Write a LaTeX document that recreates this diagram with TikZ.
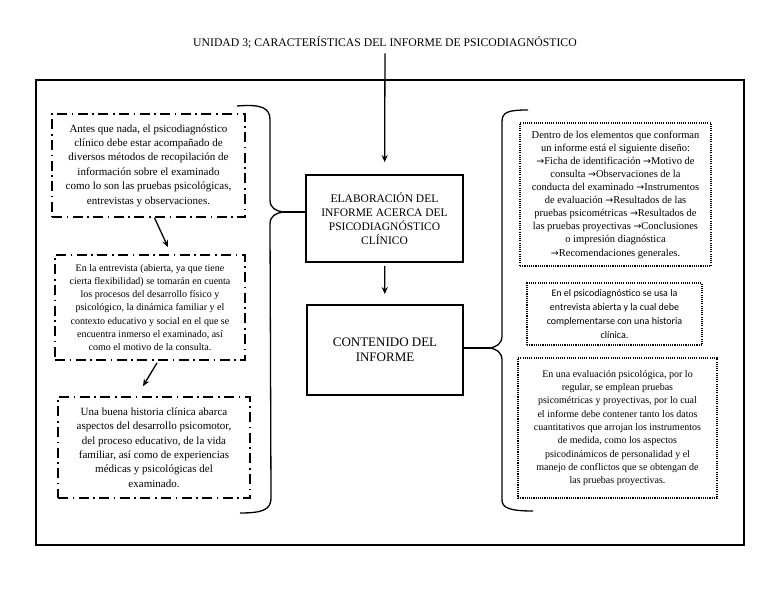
\documentclass[tikz,border=0pt]{standalone}
\usepackage{fontspec}
\setmainfont{Liberation Serif}
\newfontfamily\calib{Carlito}
\newfontfamily\symfont{DejaVu Sans}
\newcommand\myra{{\symfont\fontsize{9.5}{13.1}\selectfont →}}
\usetikzlibrary{arrows.meta}
\begin{document}
\begin{tikzpicture}[x=1pt,y=-1pt,
  frame/.style={draw, line width=1.6pt, minimum width=708pt, minimum height=465pt, inner sep=0pt},
  mainbox/.style={draw, line width=1.8pt, align=center, inner sep=0pt, font=\fontsize{11.5}{14}\selectfont},
  dashbox/.style={draw, line width=1.7pt, dash pattern=on 10pt off 4.5pt on 1.6pt off 4.5pt, align=center, inner sep=0pt},
  dotbox/.style={draw, line width=1.7pt, dash pattern=on 1.1pt off 1.1pt, align=center, inner sep=0pt},
  arr/.style={line width=1.3pt, -{Stealth[length=7pt,width=6pt]}},
  brace/.style={line width=1.3pt}]
\useasboundingbox (0,0) rectangle (768,594);
\node[frame] (frame) at (390,312.5) {};
\node[font=\fontsize{11.7}{14}\selectfont] (title) at (385,42) {UNIDAD 3; CARACTERÍSTICAS DEL INFORME DE PSICODIAGNÓSTICO};

\node[mainbox, minimum width=157pt, minimum height=87pt] (b1) at (384.5,218.5) {ELABORACIÓN DEL\\INFORME ACERCA DEL\\PSICODIAGNÓSTICO\\CLÍNICO};
\node[mainbox, minimum width=156pt, minimum height=90pt, font=\fontsize{13}{14.5}\selectfont] (b2) at (385,350) {CONTENIDO DEL\\INFORME};

\node[dashbox, minimum width=193pt, minimum height=103pt, font=\fontsize{11}{14.4}\selectfont] (A) at (148.5,165.5) {Antes que nada, el psicodiagnóstico\\clínico debe estar acompañado de\\diversos métodos de recopilación de\\información sobre el examinado\\como lo son las pruebas psicológicas,\\entrevistas y observaciones.};
\node[dashbox, minimum width=190pt, minimum height=105pt, font=\fontsize{10}{13.3}\selectfont] (B) at (150,307.5) {En la entrevista (abierta, ya que tiene\\cierta flexibilidad) se tomarán en cuenta\\los procesos del desarrollo físico y\\psicológico, la dinámica familiar y el\\contexto educativo y social en el que se\\encuentra inmerso el examinado, así\\como el motivo de la consulta.};
\node[dashbox, minimum width=192pt, minimum height=101pt, font=\fontsize{11}{14.4}\selectfont] (C) at (154,447.5) {Una buena historia clínica abarca\\aspectos del desarrollo psicomotor,\\del proceso educativo, de la vida\\familiar, así como de experiencias\\médicas y psicológicas del\\examinado.};

\node[dotbox, minimum width=191pt, minimum height=143pt, font=\fontsize{10.5}{13.1}\selectfont] (D) at (615.5,194.5) {Dentro de los elementos que conforman\\un informe está el siguiente diseño:\\\myra Ficha de identificación \myra Motivo de\\consulta \myra Observaciones de la\\conducta del examinado \myra Instrumentos\\de evaluación \myra Resultados de las\\pruebas psicométricas \myra Resultados de\\las pruebas proyectivas \myra Conclusiones\\o impresión diagnóstica\\\myra Recomendaciones generales.};
\node[dotbox, minimum width=175pt, minimum height=62pt, font=\calib\fontsize{10}{14}\selectfont] (E) at (614.5,314) {En el psicodiagnóstico se usa la\\entrevista abierta y la cual debe\\complementarse con una historia\\clínica.};
\node[dotbox, minimum width=199pt, minimum height=140pt, font=\fontsize{10}{13.3}\selectfont] (F) at (617.5,428) {En una evaluación psicológica, por lo\\regular, se emplean pruebas\\psicométricas y proyectivas, por lo cual\\el informe debe contener tanto los datos\\cuantitativos que arrojan los instrumentos\\de medida, como los aspectos\\psicodinámicos de personalidad y el\\manejo de conflictos que se obtengan de\\las pruebas proyectivas.};

% arrows
\draw[arr, shorten <=2pt, shorten >=12pt] (title) -- (b1);
\draw[arr, shorten <=3pt, shorten >=10pt] (b1) -- (b2);
\draw[arr] ([xshift=6pt]A.south) -- ([xshift=18pt,yshift=7pt]B.north);
\draw[arr] ([xshift=7pt,yshift=-2pt]B.south) -- ([xshift=-11pt,yshift=10pt]C.north);

% left brace
\coordinate (ltip) at (283,212);
\draw[brace] (237,106) .. controls (262,104) and (270,108) .. (270,120) -- (270,200) .. controls (270,208) and (276,211) .. (ltip) .. controls (276,213) and (270,216) .. (270,224) -- (271,498) .. controls (271,510) and (262,513) .. (240,513);
\draw[brace] (ltip) -- (b1.west |- ltip);

% right brace
\coordinate (rtip) at (490,348);
\draw[brace] (528,110) .. controls (508,110) and (502,112) .. (502,122) -- (502,336) .. controls (502,344) and (496,347) .. (rtip) .. controls (496,349) and (502,352) .. (502,360) -- (502,500) .. controls (502,508) and (510,511) .. (533,511);
\draw[brace] (rtip) -- (b2.east |- rtip);
\end{tikzpicture}
\end{document}
